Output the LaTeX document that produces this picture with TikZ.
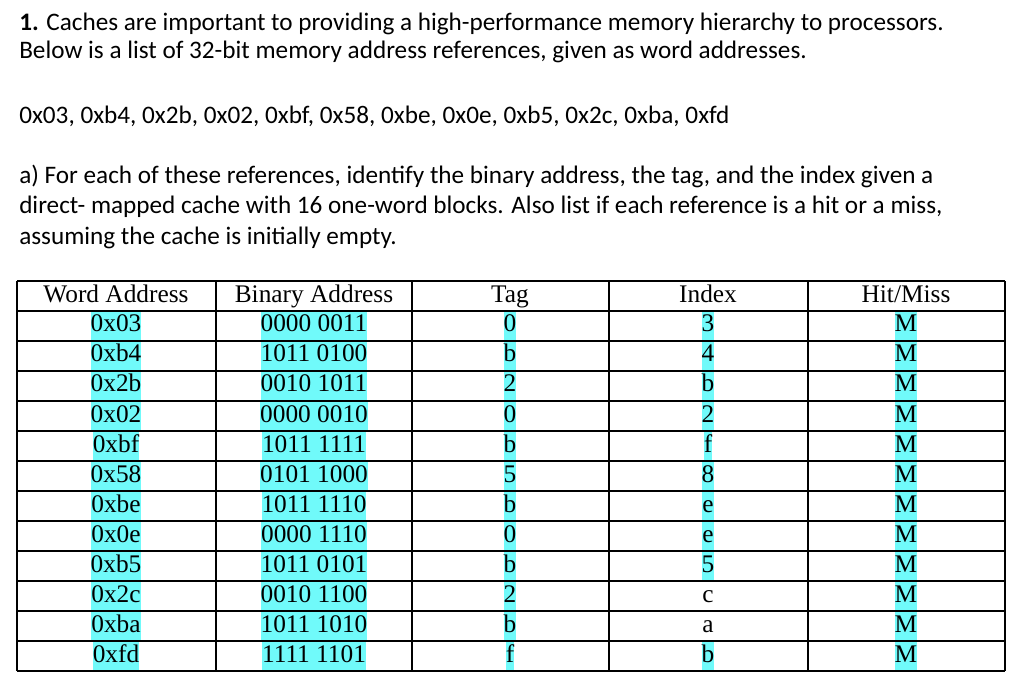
\documentclass[tikz,border=0pt]{standalone}
\usepackage{fontspec}
\setmainfont{Carlito}
\newfontfamily\tnr{Liberation Serif}
\definecolor{hl}{RGB}{112,250,250}
\begin{document}
\begin{tikzpicture}[x=0.75pt,y=-0.75pt,
  para/.style={anchor=west,inner sep=0,font=\fontsize{18.9}{22}\selectfont},
  hd/.style={inner xsep=0,inner ysep=0,text height=13pt,text depth=4pt,font=\tnr\fontsize{19}{22}\selectfont},
  cell/.style={inner xsep=0,inner ysep=0,minimum height=22.5pt,text height=13.5pt,text depth=4.5pt,fill=hl,font=\tnr\fontsize{19}{22}\selectfont},
  grid/.style={line width=1.5pt}]
\useasboundingbox (0,0) rectangle (1035,691);
\node[para] (p1) at (19,24) {\textbf{1.} Caches are important to providing a high-performance memory hierarchy to processors.};
\node[para] (p2) at (19,52) {Below is a list of 32-bit memory address references, given as word addresses.};
\node[para] (p3) at (19,116) {0x03, 0xb4, 0x2b, 0x02, 0xbf, 0x58, 0xbe, 0x0e, 0xb5, 0x2c, 0xba, 0xfd};
\node[para] (p4) at (19,176) {a) For each of these references, identify the binary address, the tag, and the index given a};
\node[para] (p5) at (19,207) {direct- mapped cache with 16 one-word blocks. Also list if each reference is a hit or a miss,};
\node[para] (p6) at (19,238) {assuming the cache is initially empty.};
\node[hd] (h1) at (116,297) {Word Address};
\node[hd] (h2) at (314,297) {Binary Address};
\node[hd] (h3) at (510,297) {Tag};
\node[hd] (h4) at (708,297) {Index};
\node[hd] (h5) at (906,297) {Hit/Miss};
\foreach \w/\b/\t/\i/\f [count=\r] in {0x03/0000 0011/0/3/hl,0xb4/1011 0100/b/4/hl,0x2b/0010 1011/2/b/hl,0x02/0000 0010/0/2/hl,0xbf/1011 1111/b/f/hl,0x58/0101 1000/5/8/hl,0xbe/1011 1110/b/e/hl,0x0e/0000 1110/0/e/hl,0xb5/1011 0101/b/5/hl,0x2c/0010 1100/2/c/white,0xba/1011 1010/b/a/white,0xfd/1111 1101/f/b/hl}{
  \pgfmathsetmacro\yy{311+30*\r-15}
  \node[cell] (w\r) at (116,\yy) {\w};
  \node[cell] (b\r) at (314,\yy) {\b};
  \node[cell] (t\r) at (510,\yy) {\t};
  \node[cell,fill=\f] (i\r) at (708,\yy) {\i};
  \node[cell] (m\r) at (906,\yy) {M};
}
\foreach \c in {17,216,412,609,808,1005} \draw[grid] (\c,281) -- (\c,671);
\draw[grid] (17,281) -- (1005,281);
\foreach \r in {0,...,12} \draw[grid] (17,311+30*\r) -- (1005,311+30*\r);
\end{tikzpicture}
\end{document}
